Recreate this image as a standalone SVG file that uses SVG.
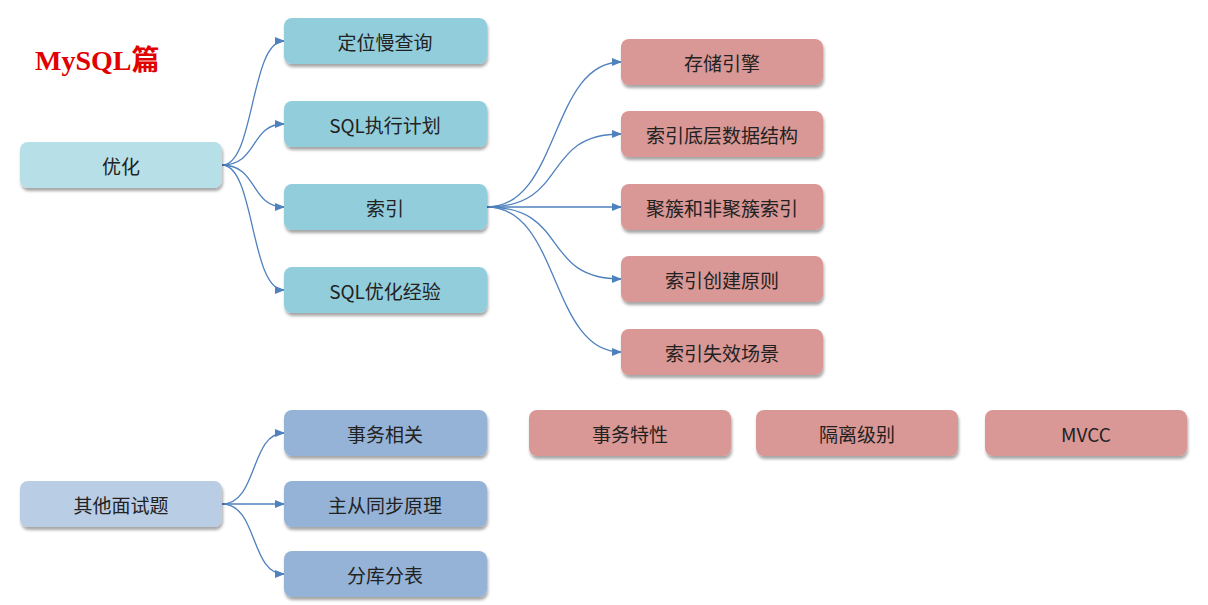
<svg xmlns="http://www.w3.org/2000/svg" width="1208" height="605" viewBox="0 0 1208 605">
<defs>
<filter id="sh" x="-10%" y="-20%" width="120%" height="160%"><feDropShadow dx="1" dy="3" stdDeviation="1.5" flood-color="#000" flood-opacity="0.35"/></filter>
<marker id="ar" markerWidth="10" markerHeight="8" refX="9" refY="4" orient="auto" markerUnits="userSpaceOnUse"><path d="M0,0 L10,4 L0,8 Z" fill="#4f81bd"/></marker>
</defs>
<style>
.n rect{filter:url(#sh)}
.n text{font-family:"Noto Sans CJK SC","Liberation Sans",sans-serif;font-size:19px;fill:#222;text-anchor:middle;dominant-baseline:central}
.a{fill:#b7dfe8}.b{fill:#92cddc}.r{fill:#d99795}.u{fill:#95b3d7}.l{fill:#b9cde5}
#c path{fill:none;stroke:#4f81bd;stroke-width:1.3;marker-end:url(#ar)}
</style>
<rect width="1208" height="605" fill="#fff"/>
<text x="35" y="70" font-family="'Liberation Serif','Noto Sans CJK SC',serif" font-weight="bold" font-size="28" fill="#e00000">MySQL篇</text>
<g id="c">
<path d="M222,165 C255,165 250,41 284,41"/>
<path d="M222,165 C258,165 250,124 284,124"/>
<path d="M222,165 C258,165 250,207 284,207"/>
<path d="M222,165 C255,165 250,290 284,290"/>
<path d="M487,207 C560,207 550,62 621,62"/>
<path d="M487,207 C570,207 540,134 621,134"/>
<path d="M487,207 L621,207"/>
<path d="M487,207 C570,207 540,279 621,279"/>
<path d="M487,207 C560,207 550,352 621,352"/>
<path d="M222,504 C258,504 250,433 284,433"/>
<path d="M222,504 L284,504"/>
<path d="M222,504 C258,504 250,574 284,574"/>
</g>
<g id="n1" class="n"><rect x="20" y="142" width="202" height="46" rx="8" class="a"/><text x="121" y="165">优化</text></g>
<g id="n2" class="n"><rect x="284" y="18" width="203" height="46" rx="8" class="b"/><text x="385" y="41">定位慢查询</text></g>
<g id="n3" class="n"><rect x="284" y="101" width="203" height="46" rx="8" class="b"/><text x="385" y="124">SQL执行计划</text></g>
<g id="n4" class="n"><rect x="284" y="184" width="203" height="46" rx="8" class="b"/><text x="385" y="207">索引</text></g>
<g id="n5" class="n"><rect x="284" y="267" width="203" height="46" rx="8" class="b"/><text x="385" y="290">SQL优化经验</text></g>
<g id="n6" class="n"><rect x="621" y="39" width="202" height="46" rx="8" class="r"/><text x="722" y="62">存储引擎</text></g>
<g id="n7" class="n"><rect x="621" y="111" width="202" height="46" rx="8" class="r"/><text x="722" y="134">索引底层数据结构</text></g>
<g id="n8" class="n"><rect x="621" y="184" width="202" height="46" rx="8" class="r"/><text x="722" y="207">聚簇和非聚簇索引</text></g>
<g id="n9" class="n"><rect x="621" y="256" width="202" height="46" rx="8" class="r"/><text x="722" y="279">索引创建原则</text></g>
<g id="n10" class="n"><rect x="621" y="329" width="202" height="46" rx="8" class="r"/><text x="722" y="352">索引失效场景</text></g>
<g id="n11" class="n"><rect x="20" y="481" width="202" height="46" rx="8" class="l"/><text x="121" y="504">其他面试题</text></g>
<g id="n12" class="n"><rect x="284" y="410" width="203" height="46" rx="8" class="u"/><text x="385" y="433">事务相关</text></g>
<g id="n13" class="n"><rect x="284" y="481" width="203" height="46" rx="8" class="u"/><text x="385" y="504">主从同步原理</text></g>
<g id="n14" class="n"><rect x="284" y="551" width="203" height="46" rx="8" class="u"/><text x="385" y="574">分库分表</text></g>
<g id="n15" class="n"><rect x="529" y="410" width="202" height="46" rx="8" class="r"/><text x="630" y="433">事务特性</text></g>
<g id="n16" class="n"><rect x="756" y="410" width="202" height="46" rx="8" class="r"/><text x="857" y="433">隔离级别</text></g>
<g id="n17" class="n"><rect x="985" y="410" width="202" height="46" rx="8" class="r"/><text x="1086" y="433">MVCC</text></g>
</svg>
